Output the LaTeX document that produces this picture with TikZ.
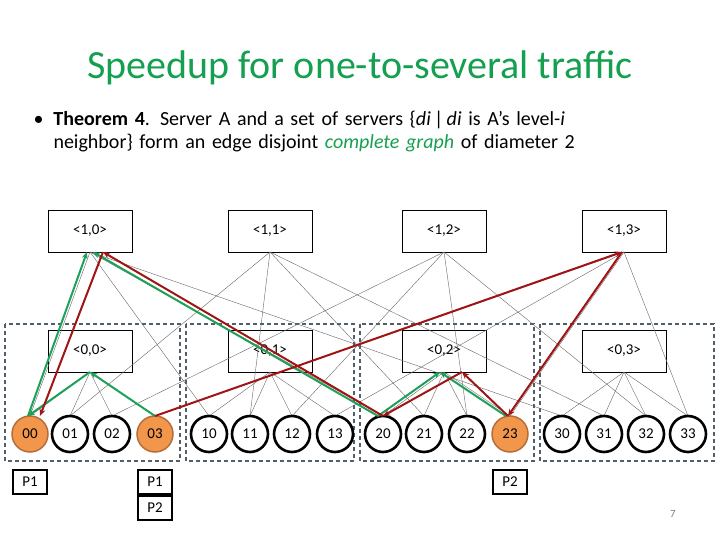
\documentclass[tikz,border=0pt]{standalone}
\usepackage{fontspec}
\setmainfont{Carlito}
\usetikzlibrary{arrows.meta}
\definecolor{tgreen}{RGB}{20,160,80}
\definecolor{pgreen}{RGB}{30,160,90}
\definecolor{pred}{RGB}{160,20,20}
\definecolor{orf}{RGB}{242,150,75}
\definecolor{ord}{RGB}{180,110,60}
\definecolor{dashc}{RGB}{80,95,105}
\tikzset{
 sw/.style={draw,thick,minimum width=84pt,minimum height=42pt,inner sep=0,font=\fontsize{15}{15}\selectfont,fill=white,fill opacity=0,text opacity=1},
 srv/.style={circle,draw,line width=2.6pt,minimum size=36pt,inner sep=0,font=\fontsize{15}{15}\selectfont},
 osrv/.style={srv,fill=orf,draw=ord,line width=1.5pt},
 pbox/.style={draw,line width=2pt,minimum width=34pt,minimum height=24pt,inner sep=0,font=\fontsize{15}{15}\selectfont},
 link/.style={gray!80!black,line width=0.4pt},
 cont/.style={draw=dashc,line width=1.5pt,dash pattern=on 4pt off 3pt},
 ga/.style={pgreen,line width=2pt,-{Stealth[length=7pt,width=6pt]}},
 ra/.style={pred,line width=2pt,-{Stealth[length=7pt,width=6pt]}}
}
\begin{document}
\begin{tikzpicture}[x=1pt,y=-1pt]
\useasboundingbox (0,0) rectangle (720,540);
\node[text=tgreen,font=\fontsize{40}{40}\selectfont] (title) at (360,68) {Speedup for one-to-several traffic};
\node[anchor=north west,font=\fontsize{20}{23}\selectfont,align=left,text width=660pt] (thm) at (30,108)
 {\textbullet\hspace{10pt}\textbf{T\textsc{heorem} 4}. Server A and a set of servers \{\textit{di}\,|\,\textit{di} is A’s level-\textit{i}\\
 \hspace{20pt}neighbor\} form an edge disjoint \textcolor{tgreen}{\textit{complete graph}} of diameter 2};
% containers
\foreach \a/\b in {5/180,186/354,360/534,540/714}{\draw[cont] (\a,324) rectangle (\b,461);}
% switches
\foreach \i/\x in {0/90,1/270,2/444,3/624}{
 \node[sw] (L1\i) at (\x,231) {<1,\i>};
 \node[sw] (L0\i) at (\x,351) {<0,\i>};
 \coordinate (b1\i) at (\x,252);
 \coordinate (b0\i) at (\x,372);
}
% servers
\def\sx{{{30,70,112,155},{209,250,292,335},{383,424,467,510},{562,604,646,688}}}
\foreach \i in {0,1,2,3}{\foreach \j in {0,1,2,3}{
 \pgfmathsetmacro\xx{\sx[\i][\j]}
 \coordinate (s\i\j) at (\xx,434);
 \coordinate (t\i\j) at (\xx,416);
}}
\foreach \i in {0,1,2,3}{\foreach \j in {0,1,2,3}{
 \draw[link] (b0\i) -- (t\i\j);
 \draw[link] (b1\j) -- (t\i\j);
}}
\foreach \i in {0,1,2,3}{\foreach \j in {0,1,2,3}{
 \pgfmathtruncatemacro\o{(\i==0 && \j==0) || (\i==0 && \j==3) || (\i==2 && \j==3)}
 \ifnum\o=1 \node[osrv] (n\i\j) at (s\i\j) {\i\j};
 \else \node[srv,fill=white] (n\i\j) at (s\i\j) {\i\j};\fi
}}
% green paths
\draw[ga] (t03) -- (b00);
\draw[ga] (b00) -- ([xshift=-2pt]t00);
\draw[ga] ([xshift=-2pt]t00) -- ([xshift=-3pt]b10);
\draw[ga] ([xshift=-5pt]t20) -- ([xshift=3pt]b10);
\draw[ga] ([xshift=-5pt]t20) -- ([xshift=-4pt]b02);
\draw[ga] ([xshift=-4pt]t23) -- ([xshift=-4pt]b02);
% red paths
\draw[ra] (t03) -- ([xshift=-2pt]b13);
\draw[ra] ([xshift=-2pt]b13) -- ([xshift=-2pt]t23);
\draw[ra] ([xshift=-2pt]t23) -- ([xshift=18pt]b02);
\draw[ra] ([xshift=18pt]b02) -- (t20);
\draw[ra] (t20) -- ([xshift=13pt]b10);
\draw[ra] ([xshift=13pt]b10) -- ([xshift=10pt]t00);
% P labels
\node[pbox] (p1a) at (30,482) {P1};
\node[pbox] (p1b) at (155,482) {P1};
\node[pbox,anchor=north] (p2b) at (p1b.south) {P2};
\node[pbox] (p2a) at (510,482) {P2};
\node[text=gray,font=\fontsize{11}{11}\selectfont] (pg) at (673,514) {7};
\end{tikzpicture}
\end{document}
